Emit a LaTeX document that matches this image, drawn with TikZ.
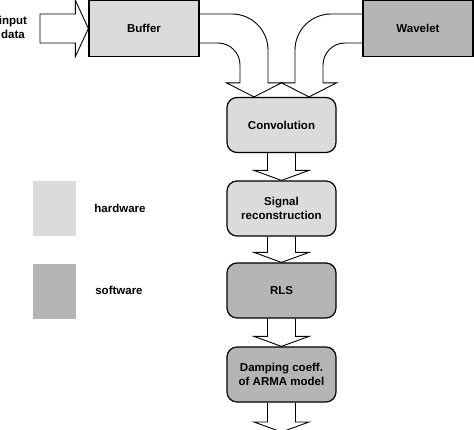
\documentclass[tikz,border=0pt]{standalone}
\usepackage{fontspec}
\setmainfont{Liberation Sans}
\usetikzlibrary{calc,backgrounds}
\definecolor{hwgray}{gray}{0.86}
\definecolor{swgray}{gray}{0.71}
\begin{document}
\begin{tikzpicture}[x=1pt, y=-1pt,
    font=\fontsize{11.5}{14}\selectfont\bfseries,
    box/.style={rectangle, draw, line width=1.2pt, minimum width=110pt, minimum height=56pt, inner sep=0pt},
    proc/.style={rectangle, draw, rounded corners=10pt, line width=1.2pt, minimum width=109pt, minimum height=55pt, align=center, inner sep=0pt},
    key/.style={rectangle, minimum width=43pt, minimum height=55pt, inner sep=0pt},
    flow/.style={draw, fill=white, line width=0.9pt, line join=miter},
    blockdown/.style={flow, to path={let \p1=(\tikztostart), \p2=(\tikztotarget) in
        (\x1-14pt,\y1) -- (\x1-14pt,\y2+10pt) -- (\x1-27.5pt,\y2+10pt) -- (\x2,\y2)
        -- (\x1+27.5pt,\y2+10pt) -- (\x1+14pt,\y2+10pt) -- (\x1+14pt,\y1)}}
]
\useasboundingbox (0,0) rectangle (474,430);

% Sources
\node[align=center] (input) at (13,27.5) {input\\data};
\coordinate (inpt) at (40,28.5);
\node[box, fill=hwgray] (buf) at (144,28.5) {Buffer};
\node[box, fill=swgray] (wav) at (418,28.5) {Wavelet};

% Processing chain
\node[proc, fill=hwgray] (conv) at (281.5,125) {Convolution};
\node[proc, fill=hwgray] (sig) at (281.5,208.5) {Signal\\reconstruction};
\node[proc, fill=swgray] (rls) at (281.5,290.5) {RLS};
\node[proc, fill=swgray] (damp) at (281.5,374.5) {Damping coeff.\\of ARMA model};
\coordinate (outpt) at (281.5,432);

% Legend
\node[key, fill=hwgray] (hwkey) at (54.5,208.5) {};
\node (hwtext) at (120,208) {hardware};
\node[key, fill=swgray] (swkey) at (54.5,291.5) {};
\node (swtext) at (119,290) {software};

% Arrows
\begin{scope}[on background layer]
\draw[flow] let \p1=(inpt), \p2=(buf.west) in
    (\x1,\y1+14.5pt) -- (\x2-13pt,\y1+14.5pt) -- (\x2-13pt,\y1+28pt) -- (\x2,\y2)
    -- (\x2-13pt,\y1-28pt) -- (\x2-13pt,\y1-14.5pt) -- (\x1,\y1-14.5pt) -- cycle;
\draw[flow] let \p1=(buf.east), \p2=(conv.north) in
    (\x1,\y1+14.5pt) -- (\x2-49.5pt,\y1+14.5pt) arc (90:0:36pt) -- (\x2-13.5pt,\y2+14pt)
    -- (\x2,\y2+14pt) -- (\x2-27.5pt,\y2) -- (\x2-55pt,\y2+14pt) -- (\x2-41.5pt,\y2+14pt)
    -- (\x2-41.5pt,\y1-36.5pt) arc (0:90:22pt) -- (\x1,\y1-14.5pt);
\draw[flow] let \p1=(wav.west), \p2=(conv.north) in
    (\x1,\y1+14.5pt) -- (\x2+49.5pt,\y1+14.5pt) arc (90:180:36pt) -- (\x2+13.5pt,\y2+14pt)
    -- (\x2,\y2+14pt) -- (\x2+27.5pt,\y2) -- (\x2+55pt,\y2+14pt) -- (\x2+41.5pt,\y2+14pt)
    -- (\x2+41.5pt,\y1-36.5pt) arc (180:90:22pt) -- (\x1,\y1-14.5pt);
\draw[blockdown] (conv.south) to (sig.north);
\draw[blockdown] (sig.south) to (rls.north);
\draw[blockdown] (rls.south) to (damp.north);
\draw[blockdown] (damp.south) to (outpt);
\end{scope}
\end{tikzpicture}
\end{document}
